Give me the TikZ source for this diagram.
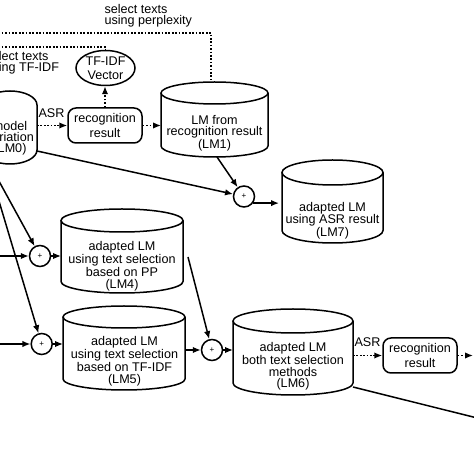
\documentclass[tikz,border=0pt]{standalone}
\usepackage{fontspec}
\setmainfont{Liberation Sans}
\usetikzlibrary{arrows.meta,shapes.geometric,calc}
\tikzset{
  ln/.style={line width=1.5pt},
  arr/.style={ln,-{Latex[length=8pt,width=6.5pt]}},
  dotarr/.style={arr,dash pattern=on 1.7pt off 1.7pt},
  dotln/.style={ln,dash pattern=on 1.7pt off 1.7pt},
  body/.style={rectangle,inner sep=0pt,outer sep=0pt,draw=none},
  cylline/.style={ln},
  txt/.style={inner sep=0pt,outer sep=0pt,font=\fontsize{12.6}{11.7}\selectfont},
  cyltext/.style={txt,align=center},
  rbox/.style={draw,ln,rectangle,rounded corners=8pt,minimum width=74pt,minimum height=35pt,
    inner sep=0pt,align=center,font=\fontsize{12.6}{14.5}\selectfont},
  plus/.style={draw,ln,circle,fill=white,minimum size=21pt,inner sep=0pt,font=\fontsize{8}{8}\selectfont},
}
\newcommand{\dbcyl}[6]{%
  \node[body,minimum width=#4pt,minimum height=#5pt] (#1) at (#2,#3) {};
  \draw[cylline] ({#2-#4/2},{#3+#5/2-#6}) -- ({#2-#4/2},{#3-#5/2+#6})
     arc[start angle=180,end angle=360,x radius={0.5*#4pt},y radius={#6pt}]
     -- ({#2+#4/2},{#3+#5/2-#6});
  \draw[cylline] (#2,{#3+#5/2-#6}) ellipse [x radius={0.5*#4pt},y radius={#6pt}];
}
\begin{document}
\begin{tikzpicture}[x=1pt,y=1pt]
\useasboundingbox (0,0) rectangle (474,474);
\clip (0,0) rectangle (474,474);
\fill[white] (0,0) rectangle (474,474);

% top texts
\node[txt,anchor=north west,align=left,font=\fontsize{12.6}{11.3}\selectfont] (pp) at (104.5,470) {select texts\\using perplexity};
\node[txt,anchor=north west,align=left,font=\fontsize{12.6}{11.5}\selectfont] (tf) at (-14.5,423) {select texts\\using TF-IDF};

% LM0 (partly outside)
\node[body,minimum width=54pt,minimum height=73pt] (lm0) at (10,346.5) {};
\draw[cylline] (-17,369) arc[start angle=180,end angle=0,x radius=27pt,y radius=14pt]
   -- (37,324) arc[start angle=0,end angle=-180,x radius=27pt,y radius=14pt] -- cycle;
\node[cyltext,font=\fontsize{12.6}{11}\selectfont] (lm0t) at (10,335.7) {model\\variation\\(LM0)};

% cylinders
\dbcyl{lm1}{214.5}{354.5}{107}{75}{11}
\node[cyltext,font=\fontsize{12.6}{11.5}\selectfont] (lm1t) at (214.5,340.8) {LM from\\recognition result\\(LM1)};
\dbcyl{lm7}{332.5}{272.5}{101}{83}{12.5}
\node[cyltext] (lm7t) at (332.5,253.5) {adapted LM\\using ASR result\\(LM7)};
\dbcyl{lm4}{122}{223}{122}{84}{11.5}
\node[cyltext] (lm4t) at (122,207.7) {adapted LM\\using text selection\\based on PP\\(LM4)};
\dbcyl{lm5}{124}{126}{122}{84}{11}
\node[cyltext] (lm5t) at (124.5,112.8) {adapted LM\\using text selection\\based on TF-IDF\\(LM5)};
\dbcyl{lm6}{293}{122}{120}{86}{12}
\node[cyltext,font=\fontsize{12.6}{11.5}\selectfont] (lm6t) at (293,107.4) {adapted LM\\both text selection\\methods\\(LM6)};

% ellipse and boxes
\node[draw,ln,ellipse,minimum width=59pt,minimum height=35pt,inner sep=0pt,align=center,
      font=\fontsize{12.6}{13.5}\selectfont] (vec) at (105.5,406) {TF-IDF\\Vector};
\node[rbox] (rec1) at (105,348.5) {recognition\\result};
\node[rbox] (rec2) at (420,118.5) {recognition\\result};

% plus circles
\node[plus] (c1) at (244,277.5) {+};
\node[plus] (c2) at (40,218) {+};
\node[plus] (c3) at (41.7,130) {+};
\node[plus] (c4) at (212,124) {+};

% labels
\node[txt] (asr1) at (51.5,361) {ASR};
\node[txt] (asr2) at (367.5,131.5) {ASR};

% coordinates
\coordinate (pL1) at (-5,441);
\coordinate (tp1) at (211,392);
\coordinate (pL2) at (-5,427);
\coordinate (a1) at (37,323);
\coordinate (lm0e) at (37,348.5);
\coordinate (b1) at (217,317);
\coordinate (l2) at (-5,218);
\coordinate (d2) at (-20,327.5);
\coordinate (l3) at (-5,130);
\coordinate (d3) at (-10,303);
\coordinate (e4) at (188,217);
\coordinate (out) at (473,118.5);
\coordinate (f) at (353,87);
\coordinate (g) at (480,55.3);

% dotted connections
\draw[dotln] (pL1) -- (pL1 -| tp1) -- (tp1);
\draw[dotln] (pL2) -| (vec.north);
\draw[dotarr] (lm0e) -- (rec1.west);
\draw[dotarr] (rec1.east) -- (rec1.east -| lm1.west);
\draw[dotarr] (rec1.north) -- (rec1.north |- vec.south);
\draw[dotarr] (lm6.east |- rec2.west) -- (rec2.west);
\draw[dotarr] (rec2.east) -- (out);

% solid connections
\draw[arr] (a1) -- (c1);
\draw[arr] (b1) -- (c1);
\draw[arr,shorten >=3pt] (c1.-36) -- (c1.-36 -| lm7.west);
\draw[arr] (l2) -- (c2);
\draw[arr] (d2) -- (c2);
\draw[arr] (l3) -- (c3);
\draw[arr] (d3) -- (c3);
\draw[arr] (c2.east) -- (c2.east -| lm4.west);
\draw[arr] (c3.east) -- (c3.east -| lm5.west);
\draw[arr] (lm5.east |- c4.west) -- (c4.west);
\draw[arr] (e4) -- (c4);
\draw[arr] (c4.east) -- (c4.east -| lm6.west);
\draw[ln] (f) -- (g);
\end{tikzpicture}
\end{document}
